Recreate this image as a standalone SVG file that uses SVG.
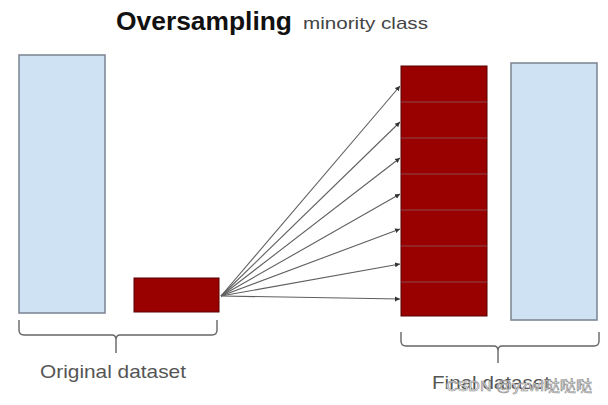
<svg xmlns="http://www.w3.org/2000/svg" width="608" height="405" viewBox="0 0 608 405">
<defs>
<style>
.blue{fill:#cfe2f3;stroke:#7f8a96;stroke-width:1.6}
.red{fill:#990000;stroke:#5a0000;stroke-width:1}
.div{stroke:#8a4848;stroke-width:1.2}
.arr{stroke:#5f5f5f;stroke-width:1.1;fill:none;marker-end:url(#ah)}
.br{stroke:#666;stroke-width:1.4;fill:none}
.lbl{font-family:"Liberation Sans",Arial,sans-serif;font-size:19px;fill:#555}
</style>
<marker id="ah" markerWidth="6" markerHeight="6" refX="5" refY="3" orient="auto" markerUnits="userSpaceOnUse">
<path d="M0,0.5 L5,3 L0,5.5 z" fill="#333"/>
</marker>
</defs>
<rect width="608" height="405" fill="#fff"/>
<g id="title">
<text x="116" y="30" font-family="Liberation Sans,Arial,sans-serif" font-weight="bold" font-size="25" fill="#111" textLength="176" lengthAdjust="spacingAndGlyphs">Oversampling</text>
<text x="303" y="29" font-family="Liberation Sans,Arial,sans-serif" font-size="17" fill="#444" textLength="125" lengthAdjust="spacingAndGlyphs">minority class</text>
</g>
<g id="original-majority"><rect class="blue" x="19" y="55" width="86" height="258"/></g>
<g id="original-minority"><rect class="red" x="134" y="278" width="85" height="34"/></g>
<g id="final-minority">
<rect class="red" x="401" y="66" width="86" height="250"/>
<line class="div" x1="401" y1="102" x2="487" y2="102"/>
<line class="div" x1="401" y1="138" x2="487" y2="138"/>
<line class="div" x1="401" y1="174" x2="487" y2="174"/>
<line class="div" x1="401" y1="210" x2="487" y2="210"/>
<line class="div" x1="401" y1="246" x2="487" y2="246"/>
<line class="div" x1="401" y1="282" x2="487" y2="282"/>
</g>
<g id="final-majority"><rect class="blue" x="511" y="63" width="86" height="257"/></g>
<g id="connectors">
<line class="arr" x1="221" y1="296" x2="400" y2="86"/>
<line class="arr" x1="221" y1="296" x2="400" y2="122"/>
<line class="arr" x1="221" y1="296" x2="400" y2="158"/>
<line class="arr" x1="221" y1="296" x2="400" y2="194"/>
<line class="arr" x1="221" y1="296" x2="400" y2="229"/>
<line class="arr" x1="221" y1="296" x2="400" y2="264"/>
<line class="arr" x1="221" y1="296" x2="400" y2="299"/>
</g>
<g id="original-bracket">
<path class="br" d="M19,320 V330 Q19,335 24,335 H112 Q116,335 116,340 V353 M116,340 Q116,335 120,335 H212 Q217,335 217,330 V320"/>
<text class="lbl" x="40" y="378" textLength="146" lengthAdjust="spacingAndGlyphs">Original dataset</text>
</g>
<g id="final-bracket">
<path class="br" d="M401,332 V341 Q401,346 406,346 H494 Q498,346 498,351 V363 M498,351 Q498,346 502,346 H594 Q599,346 599,341 V332"/>
<text class="lbl" x="432" y="389" textLength="118" lengthAdjust="spacingAndGlyphs">Final dataset</text>
<text x="446" y="391" font-family="Liberation Sans,'Noto Sans CJK SC',sans-serif" font-size="15" fill="#fff" stroke="#888" stroke-width="0.6" textLength="146" lengthAdjust="spacingAndGlyphs">CSDN @yzwl哒哒哒</text>
</g>
</svg>
